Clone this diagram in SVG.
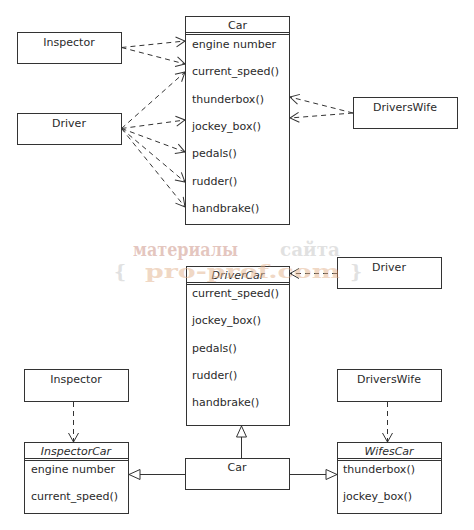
<svg xmlns="http://www.w3.org/2000/svg" width="474" height="530" viewBox="0 0 474 530">
<style>
  .box{fill:#fff;stroke:#333;stroke-width:1}
  .sep{stroke:#333;stroke-width:1;fill:none}
  .t{font-family:"DejaVu Sans","Liberation Sans",sans-serif;font-size:11px;fill:#2a2a2a}
  .c{text-anchor:middle}
  .i{font-style:italic}
  .dash{fill:none;stroke:#333;stroke-width:1;stroke-dasharray:5,4}
  .solid{fill:none;stroke:#333;stroke-width:1}
  .wm{font-family:"DejaVu Serif","Liberation Serif",serif;font-weight:bold;font-size:19px;fill-opacity:0.5}
  .wr{fill:#c98e80}
  .wg{fill:#c4c4c4}
  .wo{fill:#e2b28c}
</style>
<defs>
  <marker id="open" markerWidth="12" markerHeight="12" refX="10" refY="6" orient="auto" markerUnits="userSpaceOnUse">
    <path d="M1,1 L10,6 L1,11" fill="none" stroke="#333" stroke-width="1" stroke-dasharray="none"/>
  </marker>
  <marker id="tri" markerWidth="14" markerHeight="14" refX="12" refY="7" orient="auto" markerUnits="userSpaceOnUse">
    <path d="M1,2 L12,7 L1,12 Z" fill="#fff" stroke="#333" stroke-width="1"/>
  </marker>
</defs>
<rect width="474" height="530" fill="#fff"/>

<g id="top-car">
  <rect class="box" x="185.5" y="16.5" width="104" height="208"/>
  <path class="sep" d="M185.5,32.5 H289.5 M185.5,34.5 H289.5"/>
  <text class="t c" x="237.5" y="29">Car</text>
  <text class="t" x="192" y="48">engine number</text>
  <text class="t" x="192" y="75">current_speed()</text>
  <text class="t" x="192" y="103">thunderbox()</text>
  <text class="t" x="192" y="130">jockey_box()</text>
  <text class="t" x="192" y="157">pedals()</text>
  <text class="t" x="192" y="185">rudder()</text>
  <text class="t" x="192" y="212">handbrake()</text>
</g>
<g id="top-inspector">
  <rect class="box" x="17.5" y="32.5" width="104" height="31"/>
  <text class="t c" x="69" y="46">Inspector</text>
</g>
<g id="top-driver">
  <rect class="box" x="17.5" y="113.5" width="104" height="31"/>
  <text class="t c" x="69" y="127">Driver</text>
</g>
<g id="top-driverswife">
  <rect class="box" x="353.5" y="97.5" width="104" height="31"/>
  <text class="t c" x="405" y="111">DriversWife</text>
</g>

<g id="drivercar">
  <rect class="box" x="186.5" y="266.5" width="103" height="159"/>
  <path class="sep" d="M186.5,282.5 H289.5 M186.5,284.5 H289.5"/>
  <text class="t c i" x="238" y="279">DriverCar</text>
  <text class="t" x="192" y="297">current_speed()</text>
  <text class="t" x="192" y="324">jockey_box()</text>
  <text class="t" x="192" y="352">pedals()</text>
  <text class="t" x="192" y="379">rudder()</text>
  <text class="t" x="192" y="406">handbrake()</text>
</g>
<g id="bottom-driver">
  <rect class="box" x="337.5" y="257.5" width="104" height="31"/>
  <text class="t c" x="389" y="271">Driver</text>
</g>
<g id="bottom-inspector">
  <rect class="box" x="24.5" y="369.5" width="104" height="32"/>
  <text class="t c" x="76" y="383">Inspector</text>
</g>
<g id="bottom-driverswife">
  <rect class="box" x="337.5" y="369.5" width="104" height="32"/>
  <text class="t c" x="389" y="383">DriversWife</text>
</g>
<g id="inspectorcar">
  <rect class="box" x="24.5" y="442.5" width="104" height="71"/>
  <path class="sep" d="M24.5,458.5 H128.5 M24.5,460.5 H128.5"/>
  <text class="t c i" x="76" y="455">InspectorCar</text>
  <text class="t" x="31" y="473">engine number</text>
  <text class="t" x="31" y="500">current_speed()</text>
</g>
<g id="bottom-car">
  <rect class="box" x="185.5" y="458.5" width="104" height="31"/>
  <text class="t c" x="237" y="471">Car</text>
</g>
<g id="wifescar">
  <rect class="box" x="337.5" y="442.5" width="104" height="71"/>
  <path class="sep" d="M337.5,458.5 H441.5 M337.5,460.5 H441.5"/>
  <text class="t c i" x="389" y="455">WifesCar</text>
  <text class="t" x="343" y="473">thunderbox()</text>
  <text class="t" x="343" y="500">jockey_box()</text>
</g>

<g id="connectors">
  <path class="dash" marker-end="url(#open)" d="M121.5,47.5 L185,41"/>
  <path class="dash" marker-end="url(#open)" d="M121.5,47.5 L185,64"/>
  <path class="dash" marker-end="url(#open)" d="M121.5,128.5 L185,72"/>
  <path class="dash" marker-end="url(#open)" d="M121.5,128.5 L185,120"/>
  <path class="dash" marker-end="url(#open)" d="M121.5,128.5 L185,152"/>
  <path class="dash" marker-end="url(#open)" d="M121.5,128.5 L185,182"/>
  <path class="dash" marker-end="url(#open)" d="M121.5,128.5 L185,207"/>
  <path class="dash" marker-end="url(#open)" d="M353,113 L290,97"/>
  <path class="dash" marker-end="url(#open)" d="M353,113 L290,118"/>
  <path class="dash" marker-end="url(#open)" d="M337,273.5 L290,273.5"/>
  <path class="dash" marker-end="url(#open)" d="M73.5,402 L73.5,442"/>
  <path class="dash" marker-end="url(#open)" d="M387.5,402 L387.5,442"/>
  <path class="solid" marker-end="url(#tri)" d="M241.5,458 L241.5,426"/>
  <path class="solid" marker-end="url(#tri)" d="M185,474.5 L129,474.5"/>
  <path class="solid" marker-end="url(#tri)" d="M290,474.5 L337,474.5"/>
</g>

<g id="watermark">
  <text class="wm wr" x="133" y="256" textLength="105" lengthAdjust="spacingAndGlyphs">материалы</text>
  <text class="wm wg" x="280" y="256" textLength="60" lengthAdjust="spacingAndGlyphs">сайта</text>
  <text class="wm wg" x="114" y="278">{</text>
  <text class="wm wo" x="145" y="278" textLength="195" lengthAdjust="spacingAndGlyphs">pro-prof.com</text>
  <text class="wm wg" x="350" y="278">}</text>
</g>
</svg>
